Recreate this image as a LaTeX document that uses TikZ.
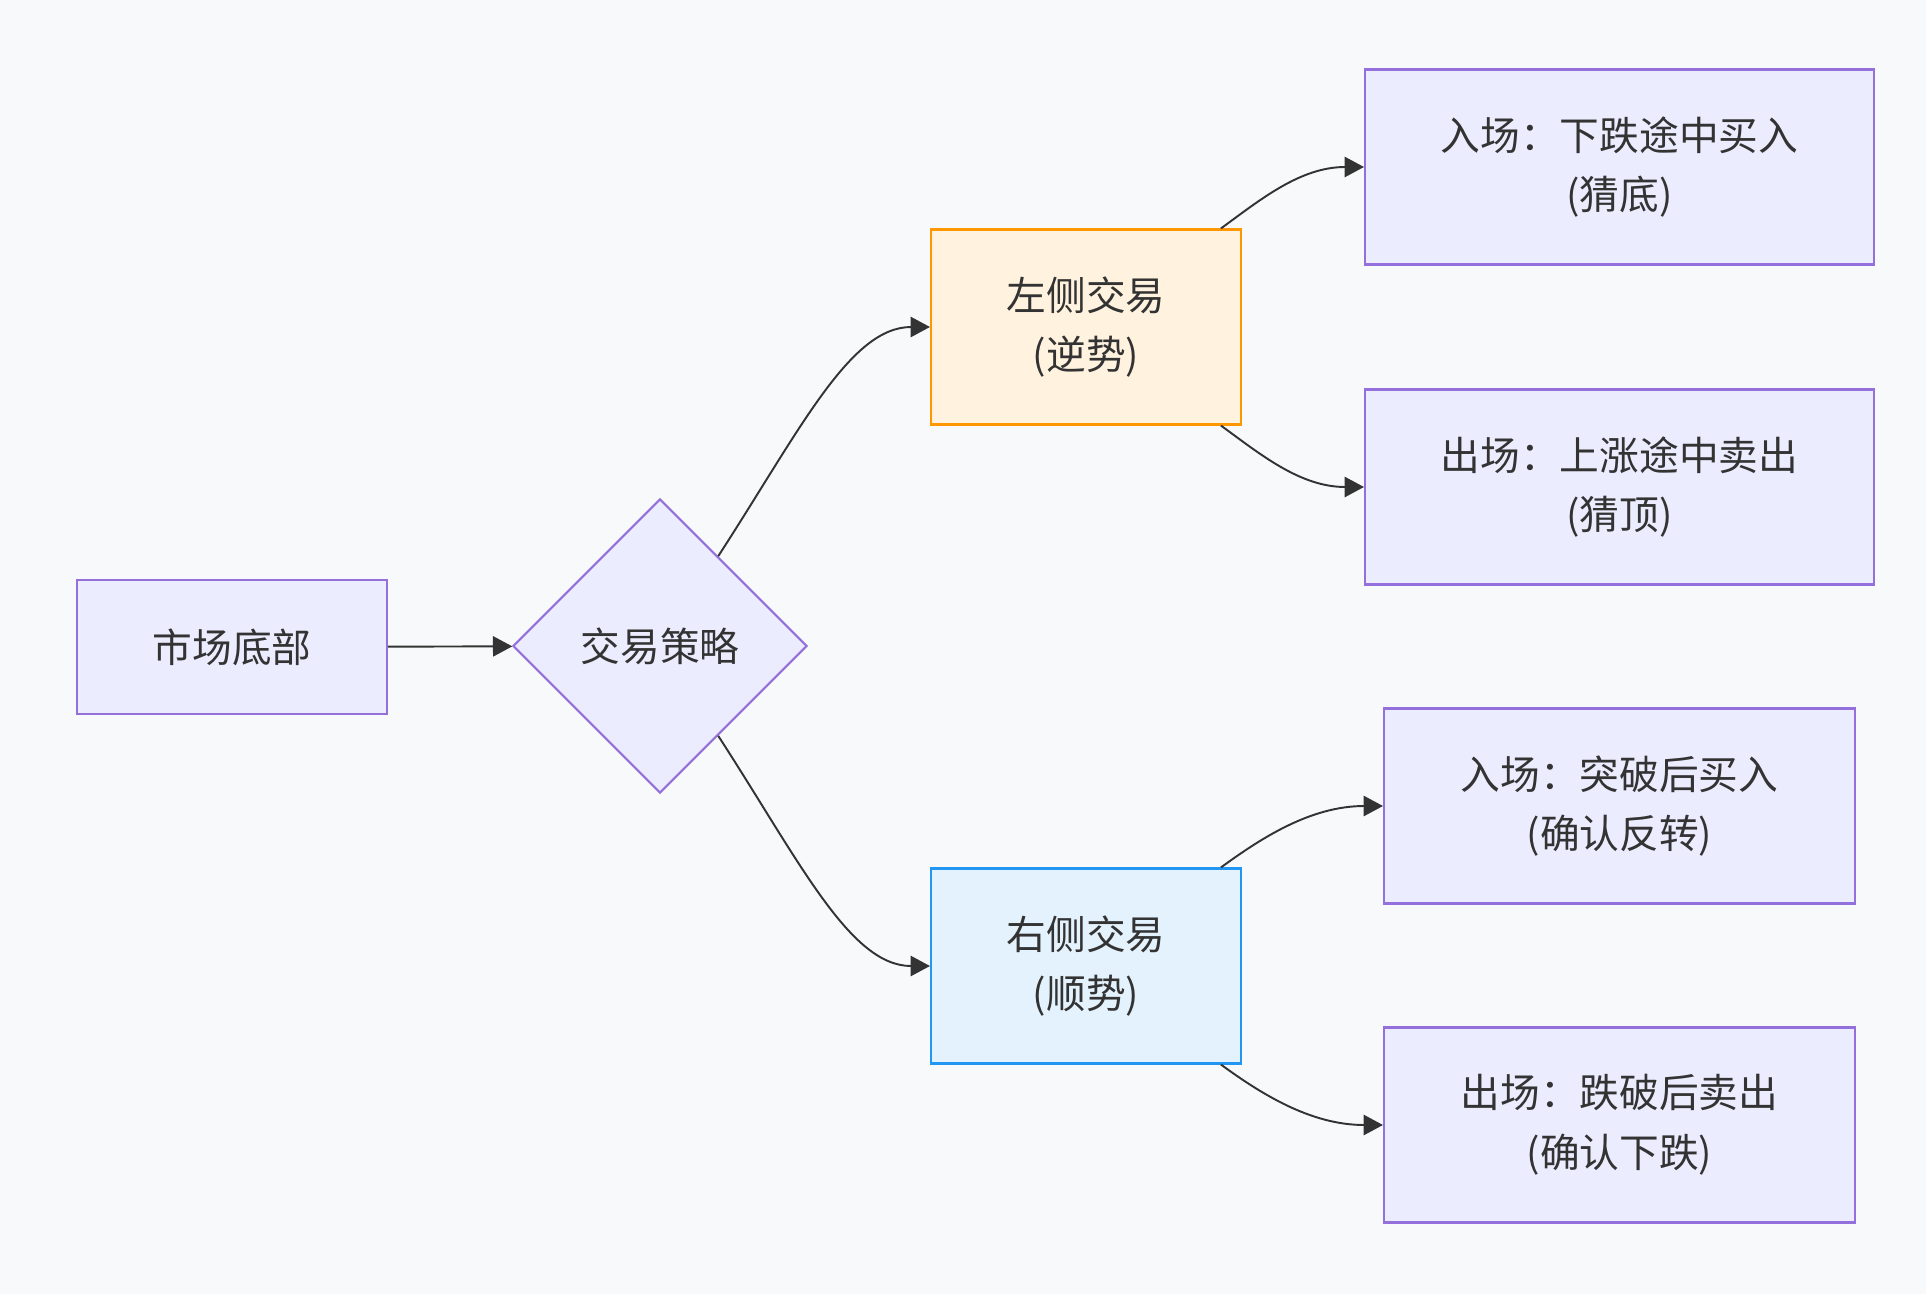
\documentclass[tikz,border=0pt]{standalone}
\usepackage{fontspec}
\setmainfont{Noto Sans CJK SC}
\usetikzlibrary{shapes.geometric,arrows.meta}

\definecolor{bgcol}{HTML}{F8F9FA}
\definecolor{boxfill}{HTML}{ECECFF}
\definecolor{boxline}{HTML}{9370DB}
\definecolor{leftfill}{HTML}{FFF3E0}
\definecolor{leftline}{HTML}{FF9800}
\definecolor{rightfill}{HTML}{E3F2FD}
\definecolor{rightline}{HTML}{2196F3}
\definecolor{inkgray}{HTML}{333333}

\begin{document}
\begin{tikzpicture}[x=0.02cm, y=-0.02cm, align=center, font=\fontsize{22.6}{34}\selectfont]
    \tikzstyle{every node} = [rectangle, draw=boxline, fill=boxfill, line width=1.2pt, inner sep=0pt, text=inkgray]
    \tikzstyle{link} = [-{Triangle[length=11pt,width=11.5pt]}, draw=inkgray, line width=1.1pt]

    \fill[bgcol] (0,0) rectangle (1926,1294);
    \useasboundingbox (0,0) rectangle (1926,1294);

    \node (bottom) at (232, 647) [minimum width=6.2cm, minimum height=2.68cm] {市场底部};
    \node (strategy) at (660, 646) [diamond, aspect=1, minimum width=5.88cm, minimum height=5.88cm] {交易策略};

    \node (left) at (1086, 327) [draw=leftline, fill=leftfill, minimum width=6.2cm, minimum height=3.9cm] {左侧交易\\(逆势)};
    \node (right) at (1086, 966) [draw=rightline, fill=rightfill, minimum width=6.2cm, minimum height=3.9cm] {右侧交易\\(顺势)};

    \node (lbuy) at (1619.5, 167) [minimum width=10.18cm, minimum height=3.9cm] {入场：下跌途中买入\\(猜底)};
    \node (lsell) at (1619.5, 487) [minimum width=10.18cm, minimum height=3.9cm] {出场：上涨途中卖出\\(猜顶)};

    \node (rbuy) at (1619.5, 806) [minimum width=9.42cm, minimum height=3.9cm] {入场：突破后买入\\(确认反转)};
    \node (rsell) at (1619.5, 1125) [minimum width=9.42cm, minimum height=3.9cm] {出场：跌破后卖出\\(确认下跌)};

    \draw [link] (bottom) -- (strategy);

    \draw [link] (strategy) .. controls (800, 430) and (850, 327) .. (left);
    \draw [link] (strategy) .. controls (800, 862) and (850, 966) .. (right);

    \draw [link] (left) .. controls (1260, 200) and (1300, 167) .. (lbuy);
    \draw [link] (left) .. controls (1260, 454) and (1300, 487) .. (lsell);

    \draw [link] (right) .. controls (1260, 839) and (1310, 806) .. (rbuy);
    \draw [link] (right) .. controls (1260, 1093) and (1310, 1125) .. (rsell);
\end{tikzpicture}
\end{document}
